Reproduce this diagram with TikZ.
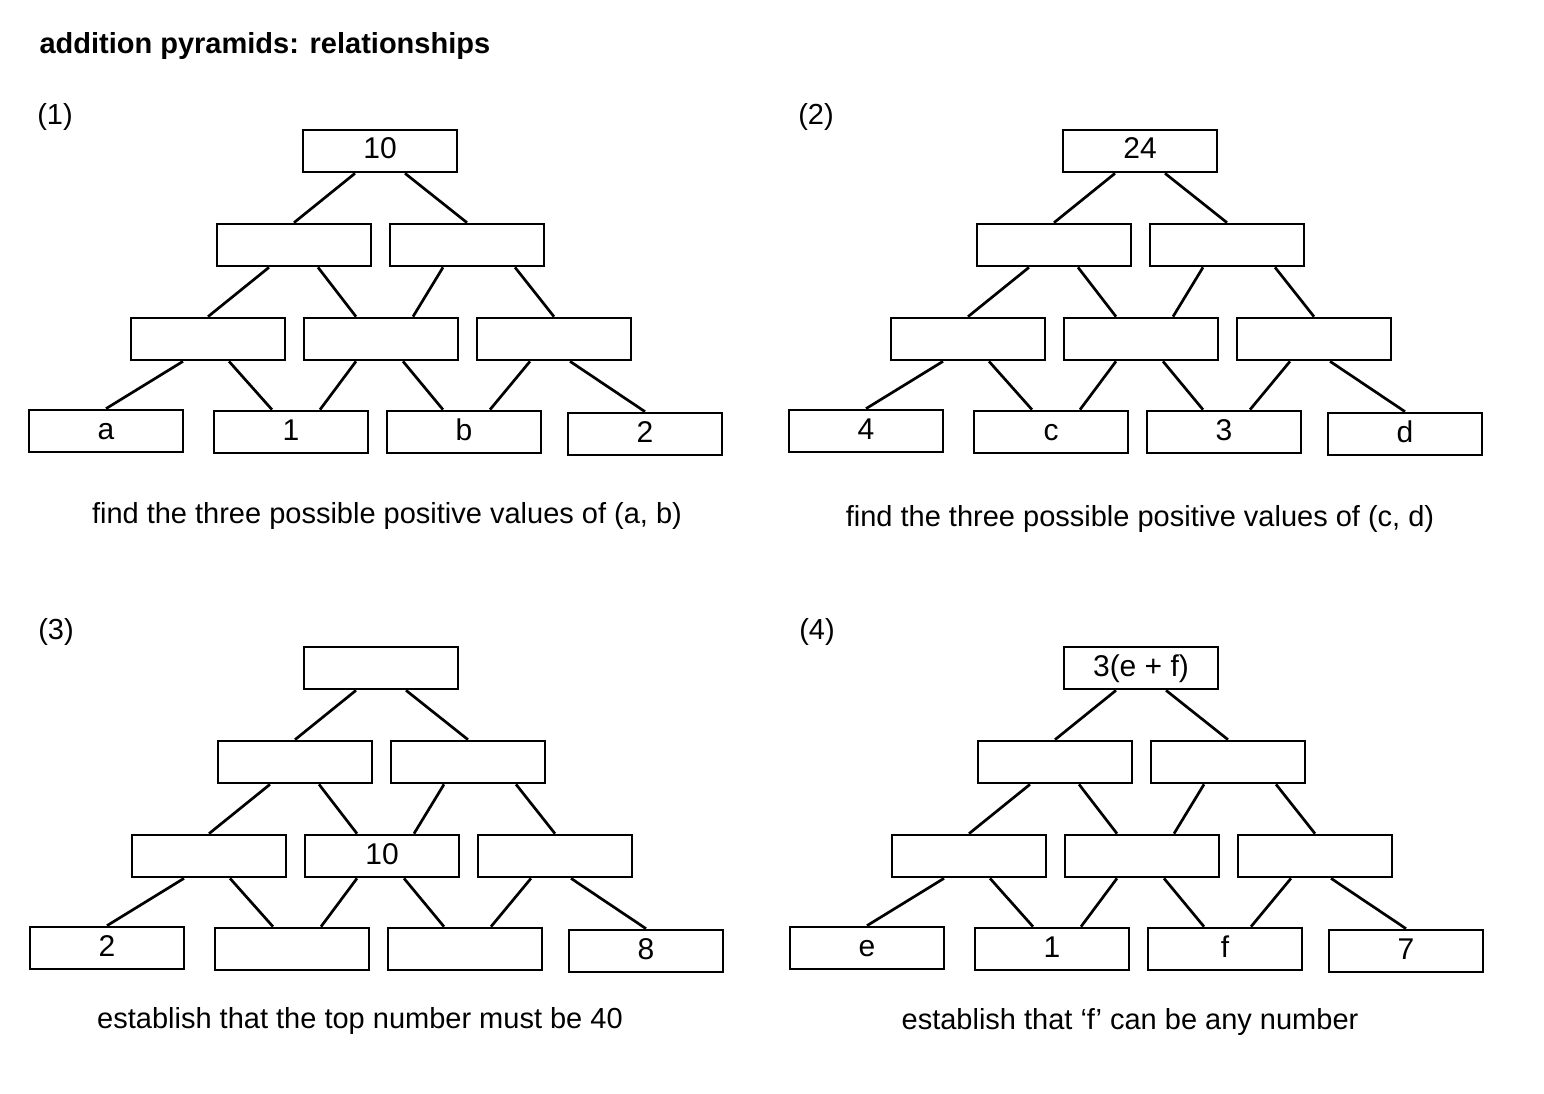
\documentclass[tikz,border=0pt]{standalone}
\usepackage{fontspec}
\setmainfont{Liberation Sans}
\newcommand\pyr[9]{%
\begin{scope}[shift={(#2,#3)}]
\node[bx] (#1t) at (380,151) {#4};
\node[bx] (#1l) at (294,245) {};
\node[bx] (#1r) at (467,245) {};
\node[bx] (#1p) at (208,339) {};
\node[bx] (#1q) at (381,339) {#5};
\node[bx] (#1s) at (554,339) {};
\node[bx] (#1a) at (106,431) {#6};
\node[bx] (#1b) at (291,432) {#7};
\node[bx] (#1c) at (464,432) {#8};
\node[bx] (#1d) at (645,434) {#9};
\draw[ln] ([xshift=-25pt]#1t.south) -- (#1l.north);
\draw[ln] ([xshift=25pt]#1t.south) -- (#1r.north);
\draw[ln] ([xshift=-25pt]#1l.south) -- (#1p.north);
\draw[ln] ([xshift=24pt]#1l.south) -- ([xshift=-25pt]#1q.north);
\draw[ln] ([xshift=-24pt]#1r.south) -- ([xshift=32pt]#1q.north);
\draw[ln] ([xshift=48pt]#1r.south) -- (#1s.north);
\draw[ln] ([xshift=-25pt]#1p.south) -- (#1a.north);
\draw[ln] ([xshift=21pt]#1p.south) -- ([xshift=-19pt]#1b.north);
\draw[ln] ([xshift=-25pt]#1q.south) -- ([xshift=29pt]#1b.north);
\draw[ln] ([xshift=22pt]#1q.south) -- ([xshift=-21pt]#1c.north);
\draw[ln] ([xshift=-24pt]#1s.south) -- ([xshift=26pt]#1c.north);
\draw[ln] ([xshift=16pt]#1s.south) -- (#1d.north);
\end{scope}}
\begin{document}
\begin{tikzpicture}[x=1pt,y=-1pt,
 bx/.style={draw,line width=2.7pt,minimum width=154pt,minimum height=42pt,inner sep=0pt,text height=21pt,text depth=5pt,font=\fontsize{30}{34}\selectfont},
 ln/.style={line width=2.7pt},
 lab/.style={font=\fontsize{29}{34}\selectfont}]
\useasboundingbox (0,0) rectangle (1544,1094);
\node[anchor=west,font=\bfseries\fontsize{29}{34}\selectfont] (title) at (36,46) {addition pyramids: relationships};
\node[lab] (n1) at (55,117) {(1)};
\node[lab] (n2) at (816,117) {(2)};
\node[lab] (n3) at (56,632) {(3)};
\node[lab] (n4) at (817,632) {(4)};
\pyr{A}{0}{0}{10}{}{a}{1}{b}{2}
\pyr{B}{760}{0}{24}{}{4}{c}{3}{d}
\pyr{C}{1}{517}{}{10}{2}{}{}{8}
\pyr{D}{761}{517}{3(e + f)}{}{e}{1}{f}{7}
\node[lab] (c1) at (387,516) {find the three possible positive values of (a, b)};
\node[lab] (c2) at (1140,519) {find the three possible positive values of (c, d)};
\node[lab] (c3) at (360,1021) {establish that the top number must be 40};
\node[lab] (c4) at (1130,1022) {establish that ‘f’ can be any number};
\end{tikzpicture}
\end{document}
